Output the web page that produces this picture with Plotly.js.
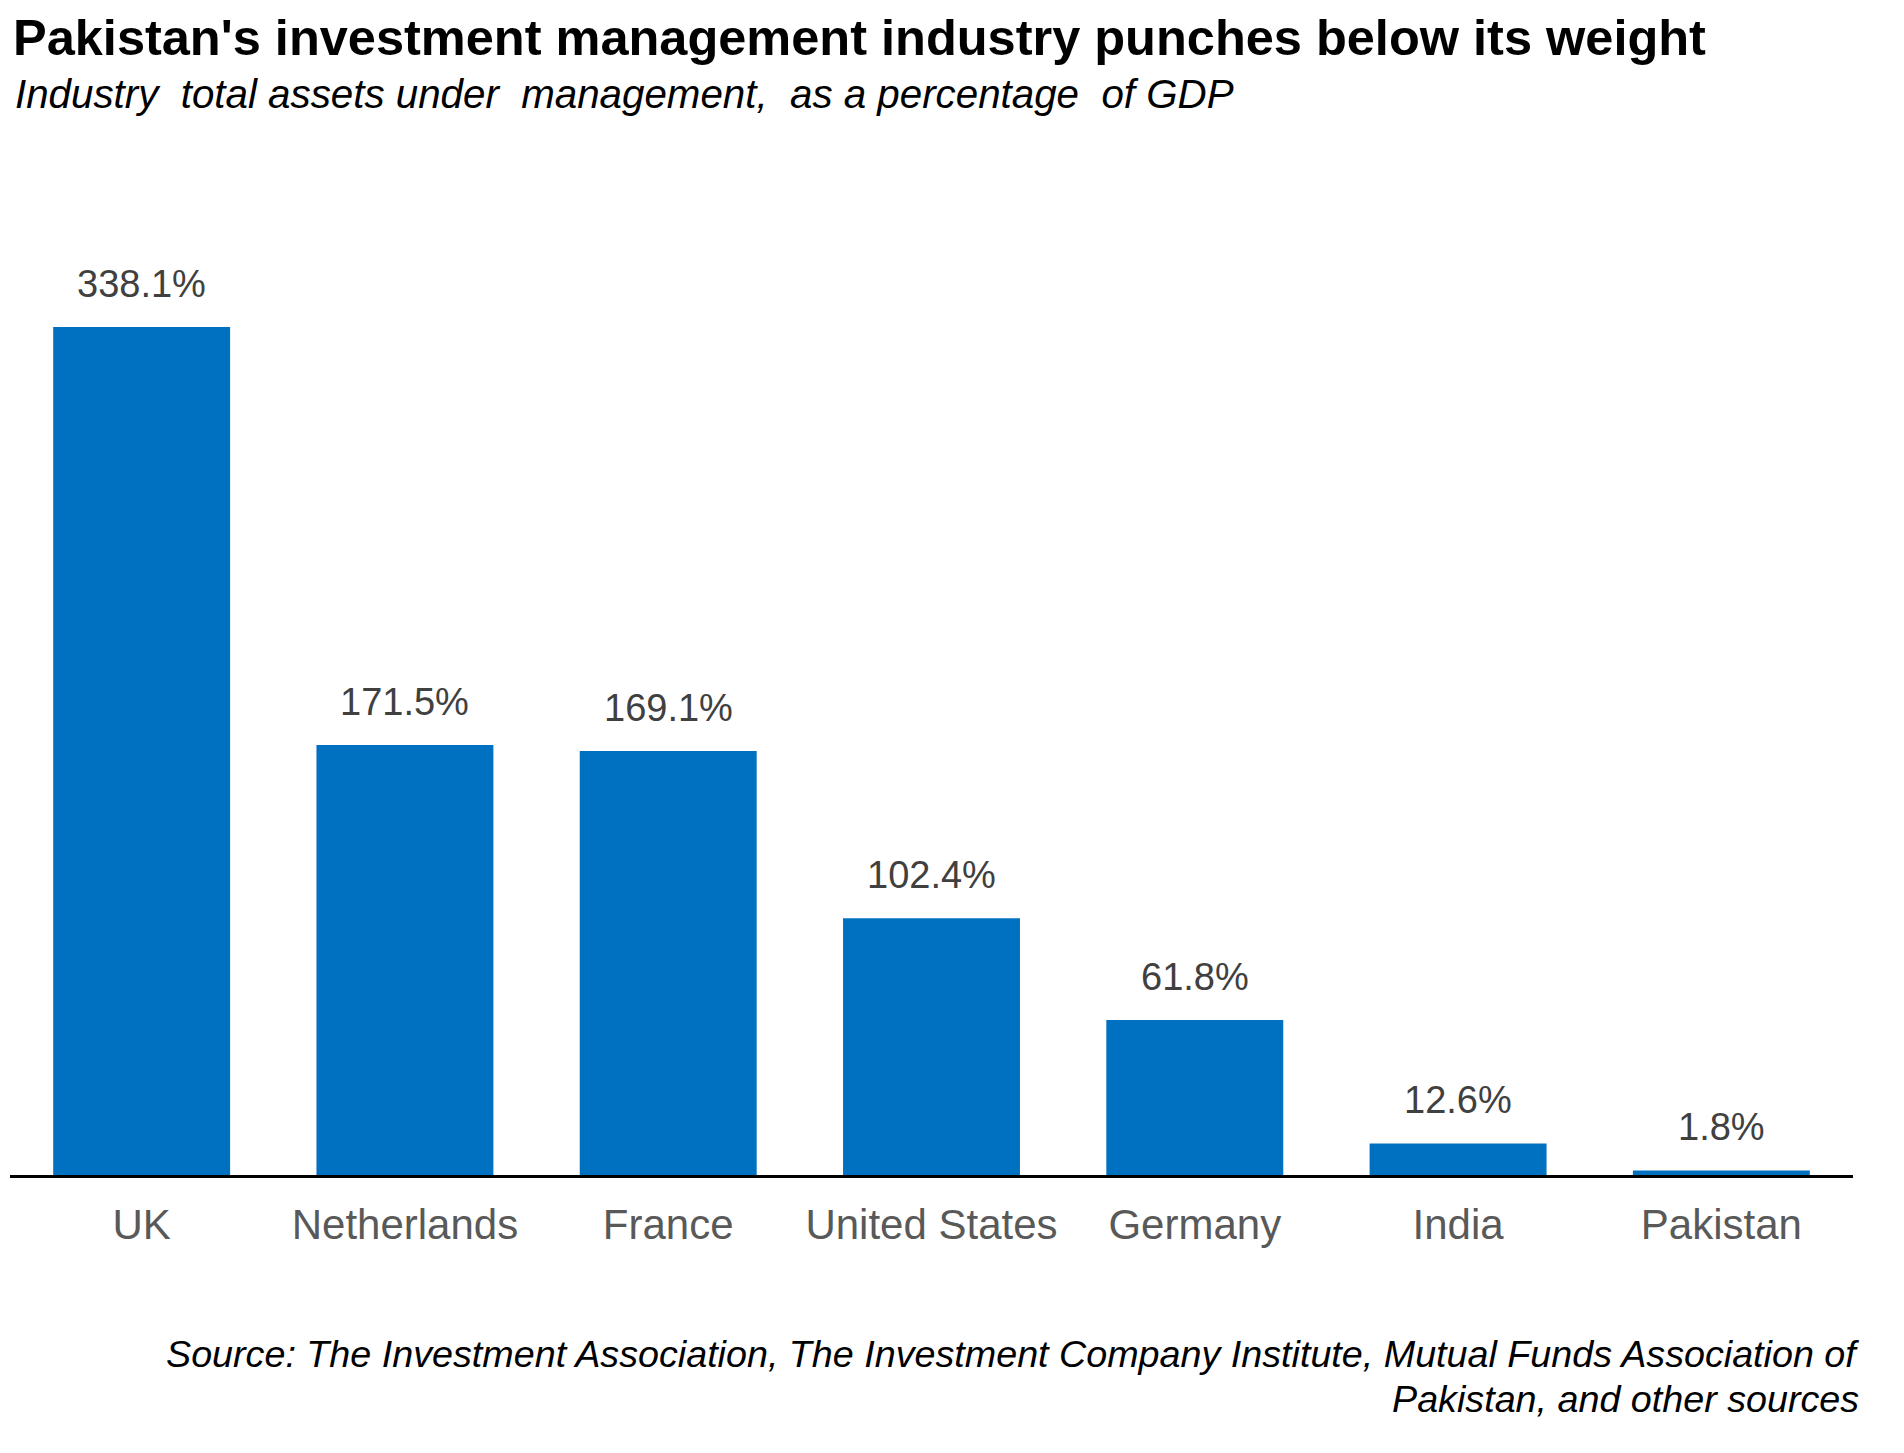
<!DOCTYPE html>
<html>
<head>
<meta charset="utf-8">
<script src="https://cdn.plot.ly/plotly-3.0.1.min.js"></script>
<style>
  html, body { margin: 0; padding: 0; background: #ffffff; }
  #chart { width: 1904px; height: 1453px; }
</style>
</head>
<body>
<div id="chart"></div>
<script>
// ---- Data ----
const countries = ["UK", "Netherlands", "France", "United States", "Germany", "India", "Pakistan"];
const aumPctGdp = [338.1, 171.5, 169.1, 102.4, 61.8, 12.6, 1.8];

const titleText = "Pakistan's investment management industry punches below its weight";
const subtitleText = "Industry  total assets under  management,  as a percentage  of GDP";
const sourceLine1 = "Source: The Investment Association, The Investment Company Institute, Mutual Funds Association of";
const sourceLine2 = "Pakistan, and other sources";

// ---- Styling ----
const FONT = "Liberation Sans, Arial, Helvetica, sans-serif";
const BAR_COLOR = "#0070C0";

const valueLabels = aumPctGdp.map((v, i) => ({
  x: countries[i],
  y: v,
  xref: "x",
  yref: "y",
  text: v.toFixed(1) + "%",
  showarrow: false,
  xanchor: "center",
  yanchor: "bottom",
  yshift: 20,
  font: { family: FONT, size: 38, color: "#404040" }
}));

const trace = {
  type: "bar",
  x: countries,
  y: aumPctGdp,
  marker: { color: BAR_COLOR, line: { width: 0 } },
  hoverinfo: "none"
};

const layout = {
  width: 1904,
  height: 1453,
  paper_bgcolor: "#ffffff",
  plot_bgcolor: "#ffffff",
  margin: { l: 10, r: 51, t: 175, b: 278, pad: 0 },
  showlegend: false,
  bargap: 0.328,
  title: {
    text: "<b>" + titleText + "</b>",
    font: { family: FONT, size: 50.5, color: "#000000" },
    x: 13 / 1904,
    xanchor: "left",
    xref: "container",
    yref: "container",
    y: 1 - 37.5 / 1453,
    yanchor: "middle"
  },
  xaxis: {
    type: "category",
    range: [-0.5, 6.5],
    showline: true,
    linecolor: "#000000",
    linewidth: 3,
    showgrid: false,
    zeroline: false,
    ticks: "",
    ticklabelstandoff: 11,
    tickfont: { family: FONT, size: 42, color: "#595959" },
    fixedrange: true
  },
  yaxis: {
    range: [0, 1000 / 2.508],
    visible: false,
    showgrid: false,
    zeroline: false,
    fixedrange: true
  },
  annotations: valueLabels.concat([
    {
      xref: "paper", yref: "paper",
      x: 3 / 1843, y: (1175 - 94) / 1000,
      xanchor: "left", yanchor: "middle",
      text: "<i>" + subtitleText + "</i>",
      showarrow: false,
      font: { family: FONT, size: 40.3, color: "#000000" }
    },
    {
      xref: "paper", yref: "paper",
      x: (1861 - 10) / 1843, y: (1175 - 1353.7) / 1000,
      xanchor: "right", yanchor: "middle", align: "right",
      text: "<i>" + sourceLine1 + "</i>",
      showarrow: false,
      font: { family: FONT, size: 37.7, color: "#000000" }
    },
    {
      xref: "paper", yref: "paper",
      x: (1861 - 10) / 1843, y: (1175 - 1398.7) / 1000,
      xanchor: "right", yanchor: "middle", align: "right",
      text: "<i>" + sourceLine2 + "</i>",
      showarrow: false,
      font: { family: FONT, size: 37.7, color: "#000000" }
    }
  ])
};

Plotly.newPlot("chart", [trace], layout, { displayModeBar: false, staticPlot: true });
</script>
</body>
</html>
